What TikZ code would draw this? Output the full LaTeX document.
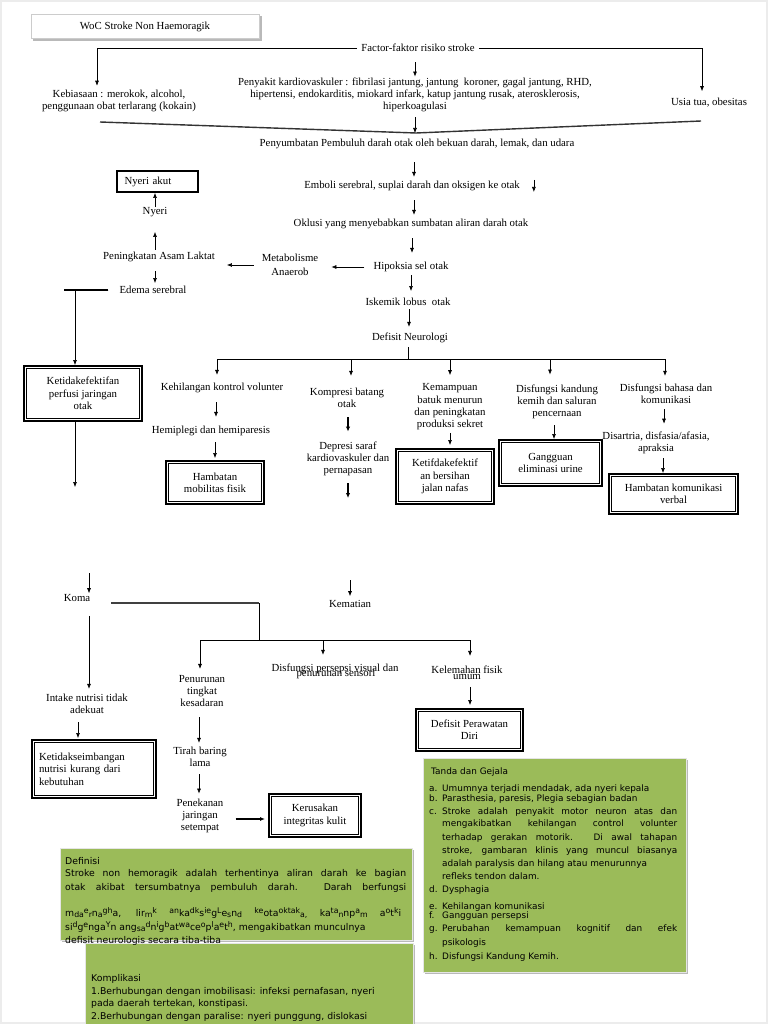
\documentclass[tikz,border=0pt]{standalone}
\usepackage{fontspec}
\setmainfont{Liberation Serif}
\newfontfamily\gfont{DejaVu Sans}
\usetikzlibrary{arrows.meta,calc}
\definecolor{gboxc}{RGB}{155,187,89}
\newcommand\fsz{\fontsize{10.8}{12.3}\selectfont}
\newcommand\gsz{\gfont\fontsize{9.3}{13}\selectfont}
\newcommand\tsz{\gfont\fontsize{8.9}{13}\selectfont}
\newcommand\ksz{\gfont\fontsize{9.3}{12.5}\selectfont}
\newcommand\gup[1]{\raisebox{2.6pt}{\fontsize{7.8}{9}\selectfont #1}}
\newcommand\gdn[1]{\raisebox{-1.2pt}{\fontsize{7.8}{9}\selectfont #1}}
\newcommand\tframe[1]{\draw[line width=0.7pt] ($(#1.north west)+(3.6,3.6)$) rectangle ($(#1.south east)+(-3.6,-3.6)$);}
\begin{document}
\begin{tikzpicture}[x=1pt,y=-1pt,
  every node/.style={font=\fsz, inner sep=0pt, align=center},
  arr/.style={-{Latex[length=5pt,width=4pt]}, line width=0.6pt},
  tarr/.style={-{Latex[length=5pt,width=4.5pt]}, line width=1.4pt},
  tbox/.style={draw, line width=2.4pt, inner sep=3pt, align=center},
  gbox/.style={fill=gboxc, draw=white!80!gray, line width=1.3pt},
  gtxt/.style={font=\gsz, anchor=base west, inner sep=0pt, align=left},
  ttxt/.style={font=\tsz, anchor=base west, inner sep=0pt, align=left},
  ktxt/.style={font=\ksz, anchor=base west, inner sep=0pt, align=left},
  wedge/.style={line width=1.4pt, black!80}]
\useasboundingbox (0,0) rectangle (768,1024);
\fill[white] (0,0) rectangle (768,1024);
\draw[gray!15, line width=2pt] (1,1) rectangle (767,1023);

% title
\fill[gray!55] (33,16.5) rectangle (262,41.5);
\node[draw=gray!40, fill=white, line width=1pt, minimum width=228, minimum height=24] (title) at (145,26.5) {WoC Stroke Non Haemoragik};

% top
\node[fill=white, inner sep=4pt] (factor) at (418,48) {Factor-faktor risiko stroke};
\node (kebiasaan) at (119,101) {Kebiasaan : merokok, alcohol,\\penggunaan obat terlarang (kokain)};
\node (penyakit) at (415,95) {Penyakit kardiovaskuler : fibrilasi jantung, jantung\ \ koroner, gagal jantung, RHD,\\hipertensi, endokarditis, miokard infark, katup jantung rusak, aterosklerosis,\\hiperkoagulasi};
\node (usia) at (709,103) {Usia tua, obesitas};
\coordinate (wl) at (100,122);
\coordinate (wr) at (701,121);
\coordinate (meet) at (416,133);

\node (penyumbatan) at (417,144) {Penyumbatan Pembuluh darah otak oleh bekuan darah, lemak, dan udara};
\node (emboli) at (412,186) {Emboli serebral, suplai darah dan oksigen ke otak};
\node (oklusi) at (411,224) {Oklusi yang menyebabkan sumbatan aliran darah otak};
\node (hipoksia) at (411,267) {Hipoksia sel otak};
\node (metab) at (290,265) {Metabolisme\\[1.5pt]Anaerob};
\node (laktat) at (159,257) {Peningkatan Asam Laktat};
\node (nyeri) at (155,212) {Nyeri};
\node[draw, line width=2pt, minimum width=81, minimum height=21, text width=66, align=left] (nyeriakut) at (157.5,181.5) {Nyeri akut};
\node (edema) at (153,290) {Edema serebral};
\node[tbox, minimum width=117.6, minimum height=54.6] (perfusi) at (83,393.5) {Ketidakefektifan\\perfusi jaringan\\otak};
\tframe{perfusi}
\node (iskemik) at (408,302) {Iskemik lobus\ \ otak};
\node (defisit) at (410,338) {Defisit Neurologi};
\coordinate (bus) at (408,359);

\node (kehilangan) at (222,388) {Kehilangan kontrol volunter};
\node (hemiplegi) at (211,431) {Hemiplegi dan hemiparesis};
\node[tbox, minimum width=97.6, minimum height=42.6] (hmob) at (215,482.5) {Hambatan\\mobilitas fisik};
\tframe{hmob}
\node (kompresi) at (347,398) {Kompresi batang\\otak};
\node (depresi) at (348,459) {Depresi saraf\\kardiovaskuler dan\\pernapasan};
\node (kemampuan) at (450,407) {Kemampuan\\batuk menurun\\dan peningkatan\\produksi sekret};
\node[tbox, minimum width=97.6, minimum height=54.6] (bersihan) at (445,476.5) {Ketifdakefektif\\an bersihan\\jalan nafas};
\tframe{bersihan}
\node (kandung) at (557,402) {Disfungsi kandung\\kemih dan saluran\\pencernaan};
\node[tbox, minimum width=102.6, minimum height=45.6] (gangguan) at (550.5,463) {Gangguan\\eliminasi urine};
\tframe{gangguan}
\node (bahasa) at (666,394) {Disfungsi bahasa dan\\komunikasi};
\node (disartria) at (656,443) {Disartria, disfasia/afasia,\\apraksia};
\node[tbox, minimum width=128.6, minimum height=39.6] (hkom) at (673.5,494) {Hambatan komunikasi\\verbal};
\tframe{hkom}

% lower part
\coordinate (pend) at (75,487);
\coordinate (kstart) at (89,573);
\coordinate (dend) at (348,498);
\coordinate (kmstart) at (350,580);
\coordinate (kbus) at (259,640);
\node (koma) at (77,598) {Koma};
\node (kematian) at (350,604) {Kematian};
\node (intake) at (87,704) {Intake nutrisi tidak\\adekuat};
\node[tbox, minimum width=123.6, minimum height=57.6, text width=110, align=left] (nutrisi) at (94,769) {Ketidakseimbangan\\nutrisi kurang dari\\kebutuhan};
\tframe{nutrisi}
\node (penurunan) at (202,691) {Penurunan\\tingkat\\kesadaran};
\node (persepsi) at (335,669) {Disfungsi persepsi visual dan};
\node (persepsib) at (336,674) {penurunan sensori};
\node (kelemahan) at (467,670) {Kelemahan fisik};
\node (kelemahanb) at (467,677) {umum};
\node[tbox, minimum width=106.6, minimum height=41.6] (perawatan) at (469.5,730) {Defisit Perawatan\\Diri};
\tframe{perawatan}
\node (tirah) at (200,757) {Tirah baring\\lama};
\node (penekanan) at (200,816) {Penekanan\\jaringan\\setempat};
\node[tbox, minimum width=91.6, minimum height=42.6] (kerusakan) at (315,815.5) {Kerusakan\\integritas kulit};
\tframe{kerusakan}

% connectors top
\draw[arr, shorten >=4pt] (factor.west) -| ([xshift=-22pt]kebiasaan.north);
\draw[arr, shorten >=7pt] (factor.east) -| ([xshift=-7pt]usia.north);
\draw[arr, shorten <=6pt, shorten >=1pt] (factor.south -| penyakit.north) -- (penyakit.north);
\draw[wedge] (wl) -- (meet) -- (wr);
\draw[arr, shorten <=5pt] (penyakit.south) -- (penyakit.south |- meet);
\draw[arr, shorten <=13pt, shorten >=4pt] ([xshift=-3pt]penyumbatan.south) -- ([xshift=-3pt]penyumbatan.south |- emboli.north);
\draw[arr] ([xshift=14pt,yshift=6pt]emboli.east) -- ([xshift=14pt,yshift=-6pt]emboli.east);
\draw[arr, shorten <=9pt, shorten >=4pt] ([xshift=2pt]emboli.south) -- ([xshift=2pt]emboli.south |- oklusi.north);
\draw[arr, shorten <=9pt, shorten >=9pt] ([xshift=1pt]oklusi.south) -- ([xshift=1pt]oklusi.south |- hipoksia.north);
\draw[arr, shorten <=9pt, shorten >=13pt] (hipoksia.west) -- (hipoksia.west -| metab.east);
\draw[arr, shorten <=8pt, shorten >=12pt] (metab.west) -- (metab.west -| laktat.east);
\draw[arr, shorten <=2pt, shorten >=15pt] (nyeri.south |- laktat.north) -- (nyeri.south);
\draw[arr] (nyeri.north) -- (nyeri.north |- nyeriakut.south);
\draw[arr, shorten <=9pt, shorten >=3pt] ([xshift=-4pt]laktat.south) -- ([xshift=-4pt]laktat.south |- edema.north);
\draw[line width=1.8pt] ([xshift=-11pt]edema.west) -- ([xshift=-11pt]edema.west -| pend);
\draw[arr] ([xshift=-11pt]edema.west) -| ([xshift=-8pt]perfusi.north);
\draw[arr] ([xshift=-8pt]perfusi.south) -- (pend);
\draw[arr, shorten <=3pt, shorten >=7pt] (hipoksia.south) -- (hipoksia.south |- iskemik.north);
\draw[arr, shorten <=3pt, shorten >=6pt] ([xshift=1pt]iskemik.south) -- ([xshift=1pt]iskemik.south |- defisit.north);
\draw[shorten <=4pt] (defisit.south -| bus) -- (bus);
\draw[arr, shorten >=8pt] (bus) -| ([xshift=-5pt]kehilangan.north);
\draw[arr, shorten >=12pt] (bus) -| ([xshift=4pt]kompresi.north);
\draw[arr, shorten >=8.5pt] (bus) -| (kemampuan.north);
\draw[arr, shorten >=10pt] (bus) -| ([xshift=-7pt]kandung.north);
\draw[arr, shorten >=8pt] (bus) -| ([xshift=-1pt]bahasa.north);
\draw[arr, shorten <=9pt, shorten >=9pt] ([xshift=-6pt]kehilangan.south) -- ([xshift=-6pt]kehilangan.south |- hemiplegi.north);
\draw[arr, shorten <=6pt, shorten >=2pt] (hmob.north |- hemiplegi.south) -- (hmob.north);
\draw[tarr, shorten <=9pt, shorten >=10pt] ([xshift=1pt]kompresi.south) -- ([xshift=1pt]kompresi.south |- depresi.north);
\draw[tarr, shorten <=7pt] (depresi.south) -- (dend);
\draw[arr, shorten <=2.5pt, shorten >=3pt] (kemampuan.south) -- (kemampuan.south |- bersihan.north);
\draw[arr, shorten <=6pt] ([xshift=-3pt]kandung.south) -- ([xshift=-3pt]kandung.south |- gangguan.north);
\draw[arr, shorten <=5pt, shorten >=8pt] ([xshift=-2pt]bahasa.south) -- ([xshift=-2pt]bahasa.south |- disartria.north);
\draw[arr, shorten <=4pt] ([xshift=7pt]disartria.south) -- ([xshift=7pt]disartria.south |- hkom.north);

% connectors lower
\coordinate (kl) at ([xshift=21pt,yshift=-5pt]koma.east);
\coordinate (kc) at (kl -| kbus);
\draw[arr, shorten >=1pt] (kstart) -- (kstart |- koma.north);
\draw[arr, shorten >=4pt] (kmstart) -- (kmstart |- kematian.north);
\draw[line width=1.6pt, black!75] (kl) -- (kc);
\draw (kc) -- (kbus);
\draw[arr, shorten >=6pt] (kbus) -| ([xshift=-2pt]penurunan.north);
\draw[arr, shorten >=9pt] (kbus) -| ([xshift=-12pt]persepsi.north);
\draw[arr, shorten >=10pt] (kbus) -| ([xshift=3pt]kelemahan.north);
\draw[arr, shorten <=14pt, shorten >=5pt] ([xshift=12pt]koma.south) -- ([xshift=12pt]koma.south |- intake.north);
\draw[arr, shorten <=8pt, shorten >=1pt] ([xshift=-9pt]intake.south) -- ([xshift=-9pt]intake.south |- nutrisi.north);
\draw[arr, shorten <=10pt, shorten >=4pt] ([xshift=-3pt]penurunan.south) -- ([xshift=-3pt]penurunan.south |- tirah.north);
\draw[arr, shorten <=7pt, shorten >=5pt] ([xshift=-1pt]tirah.south) -- ([xshift=-1pt]tirah.south |- penekanan.north);
\draw[arr, line width=1.2pt, shorten <=12pt, shorten >=3pt] ([yshift=-3pt]penekanan.east) -- ([yshift=-3pt]penekanan.east -| kerusakan.west);
\draw[arr, shorten <=7pt, shorten >=3pt] ([xshift=3pt]kelemahanb.south) -- ([xshift=3pt]kelemahanb.south |- perawatan.north);

% Tanda dan Gejala
\fill[gray!55] (425,760) rectangle (688,974);
\node[gbox, minimum width=263, minimum height=214, anchor=north west] (tandabox) at (423,758) {};
\node[ttxt] (t0) at (431,774) {Tanda dan Gejala};
\node[ttxt] (ta) at (429,791) {\makebox[13pt][l]{a.}Umumnya terjadi mendadak, ada nyeri kepala};
\node[ttxt] (tb) at (429,801) {\makebox[13pt][l]{b.}Parasthesia, paresis, Plegia sebagian badan};
\node[ttxt] (tc) at (429,814) {\makebox[13pt][l]{c.}\makebox[235pt][s]{Stroke adalah penyakit motor neuron atas dan}};
\node[ttxt] (tc2) at (442,826) {\makebox[235pt][s]{mengakibatkan kehilangan control volunter}};
\node[ttxt] (tc3) at (442,840) {\makebox[235pt][s]{terhadap gerakan motorik. Di awal tahapan}};
\node[ttxt] (tc4) at (442,853) {\makebox[235pt][s]{stroke, gambaran klinis yang muncul biasanya}};
\node[ttxt] (tc5) at (442,866) {adalah paralysis dan hilang atau menurunnya};
\node[ttxt] (tc6) at (442,879) {refleks tendon dalam.};
\node[ttxt] (td) at (429,892) {\makebox[13pt][l]{d.}Dysphagia};
\node[ttxt] (te) at (429,909) {\makebox[13pt][l]{e.}Kehilangan komunikasi};
\node[ttxt] (tf) at (429,918) {\makebox[13pt][l]{f.}Gangguan persepsi};
\node[ttxt] (tg) at (429,931) {\makebox[13pt][l]{g.}\makebox[235pt][s]{Perubahan kemampuan kognitif dan efek}};
\node[ttxt] (tg2) at (442,945) {psikologis};
\node[ttxt] (th) at (429,959) {\makebox[13pt][l]{h.}Disfungsi Kandung Kemih.};

% Definisi
\fill[gray!55] (62,850) rectangle (414,942);
\node[gbox, minimum width=352, minimum height=92, anchor=north west] (defbox) at (60,848) {};
\node[gtxt] (d0) at (65,864) {Definisi};
\node[gtxt] (d1) at (65,876) {\makebox[341pt][s]{Stroke non hemoragik adalah terhentinya aliran darah ke bagian}};
\node[gtxt] (d2) at (65,890) {\makebox[341pt][s]{otak akibat tersumbatnya pembuluh darah. Darah berfungsi}};
\node[gtxt] (d3) at (65,916) {\makebox[336pt][s]{m\gdn{da}\gup{e}\gdn{r}n\gdn{a}\gup{g}\gup{h}a, lir\gdn{m}\gup{k} \gup{a}\gup{n}ka\gup{dk}s\gup{ie}g\gup{L}e\gdn{s}n\gdn{d} \gup{ke}ota\gup{o}\gup{k}\gup{tak}\gdn{a,} ka\gup{ta}\gdn{n}np\gup{a}\gdn{m} a\gup{o}t\gup{k}i}};
\node[gtxt] (d4) at (65,930) {si\gup{d}g\gup{e}nga\gup{Y}n ang\gdn{sa}\gup{d}n\gup{i}g\gup{b}at\gup{wa}ce\gup{o}p\gup{l}a\gup{e}t\gup{h}, mengakibatkan munculnya};

% Komplikasi
\fill[gray!55] (87,945) rectangle (415,1040);
\node[gbox, minimum width=328, minimum height=95, anchor=north west] (kombox) at (85,943) {};
\node[gtxt] (d5) at (65,943) {defisit neurologis secara tiba-tiba};
\node[ktxt] (k0) at (91,981) {Komplikasi};
\node[ktxt] (k1) at (91,994) {1.Berhubungan dengan imobilisasi: infeksi pernafasan, nyeri};
\node[ktxt] (k2) at (91,1006) {pada daerah tertekan, konstipasi.};
\node[ktxt] (k3) at (91,1019) {2.Berhubungan dengan paralise: nyeri punggung, dislokasi};
\end{tikzpicture}
\end{document}
